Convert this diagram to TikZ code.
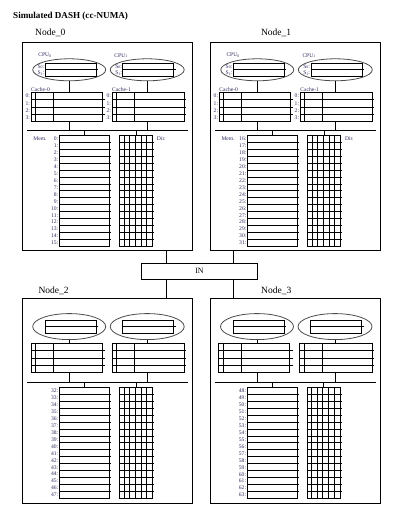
\documentclass[tikz,border=0pt]{standalone}
\usepackage{fontspec}
\setmainfont{Liberation Serif}
\usetikzlibrary{shapes.geometric}
\definecolor{labc}{RGB}{45,45,95}
\newif\ifshowlab
\newcommand\sbs[1]{\raisebox{-0.7pt}{\fontsize{3.9}{4}\selectfont #1}}
\tikzset{
  ln/.style={line width=0.9pt},
  box/.style={draw, line width=1pt, rectangle, inner sep=0pt, outer sep=0pt, anchor=north west},
  cell/.style={draw, line width=0.9pt, rectangle, inner sep=0pt, outer sep=0pt, anchor=north west},
  cpuell/.style={draw=black!70, line width=0.8pt, ellipse, inner sep=0pt, outer sep=0pt},
  lab/.style={font=\fontsize{5.6}{6}\selectfont, text=labc, inner sep=0pt},
  ntitle/.style={font=\fontsize{9.5}{11}\selectfont, inner sep=0pt, anchor=base west},
}
% #1 id, #2 X, #3 Y, #4 label x offset, #5 first memory index
\newcommand\dashnode[5]{%
  \node[ntitle] (n#1lbl) at (#2+#4, #3+\LBY) {Node\_#1};
  \node[box, minimum width=170pt, minimum height=\BH] (n#1) at (#2,#3) {};
  % CPUs
  \node[cpuell, minimum width=73pt, minimum height=\EH] (n#1e0) at (#2+46.5, #3+\ECY) {};
  \node[cpuell, minimum width=74pt, minimum height=\EH] (n#1e1) at (#2+124.5, #3+\ECY) {};
  \node[cell, anchor=center, minimum width=51pt, minimum height=13pt] (n#1r0) at (#2+48, #3+\ECY) {};
  \node[cell, anchor=center, minimum width=51pt, minimum height=13pt] (n#1r1) at (#2+125.7, #3+\ECY) {};
  \draw[ln] (n#1r0.west) -- ++(53,0);
  \draw[ln] (n#1r1.west) -- ++(53,0);
  % caches
  \node[cell, minimum width=71pt, minimum height=29.5pt] (n#1c0) at (#2+8.3, #3+\CTOP) {};
  \node[cell, minimum width=72.3pt, minimum height=29.5pt] (n#1c1) at (#2+89.3, #3+\CTOP) {};
  \foreach \c in {0,1}{
    \foreach \k in {1,2,3}
      \draw[ln] ([yshift=-\k*7.375pt]n#1c\c.north west) -- ++(74,0);
    \foreach \v in {4.5,22.5}
      \draw[ln] ([xshift=\v pt]n#1c\c.north west) -- ([xshift=\v pt]n#1c\c.south west);
  }
  % bus
  \coordinate (n#1bl) at (#2+4.3, #3+\BUSY);
  \coordinate (n#1br) at (#2+165.5, #3+\BUSY);
  \draw[ln] (n#1bl) -- (n#1br);
  \foreach \c in {0,1}{
    \draw[ln] (n#1e\c.south) -- (n#1e\c.south |- n#1c\c.north);
    \draw[ln] (n#1e\c.south |- n#1c\c.south) -- (n#1e\c.south |- n#1bl);
  }
  % memory and directory
  \node[cell, minimum width=50pt, minimum height=111.2pt] (n#1m) at (#2+36.6, #3+\MTOP) {};
  \node[cell, minimum width=33.4pt, minimum height=111.2pt] (n#1d) at (#2+96.6, #3+\MTOP) {};
  \foreach \k in {1,...,15}{
    \draw[ln] ([yshift=-\k*6.95pt]n#1m.north west) -- ++(52,0);
    \draw[ln] ([yshift=-\k*6.95pt]n#1d.north west) -- ++(35,0);
  }
  \foreach \v in {4.7,9.9,15.7,21.7,27.4}
    \draw[ln] ([xshift=\v pt]n#1d.north west) -- ([xshift=\v pt]n#1d.south west);
  \draw[ln] (n#1m.north) -- (n#1m.north |- n#1bl);
  \draw[ln] (n#1d.north) -- (n#1d.north |- n#1bl);
  \foreach \k in {0,...,15}{
    \pgfmathtruncatemacro\mi{#5+\k}
    \node[lab, anchor=east] at ([xshift=-0.8pt, yshift=-(\k+0.5)*6.95pt]n#1m.north west) {\mi:};
  }
  \ifshowlab
    \node[lab, anchor=west] (n#1cpu0) at (#2+15.5, #3+12.5) {CPU\sbs{0}};
    \node[lab, anchor=west] (n#1cpu1) at (#2+91.5, #3+12.5) {CPU\sbs{1}};
    \foreach \c in {0,1}{
      \node[lab, anchor=east] at ([xshift=-0.8pt, yshift=3.2pt]n#1r\c.west) {S\sbs{0}:};
      \node[lab, anchor=east] at ([xshift=-0.8pt, yshift=-3.2pt]n#1r\c.west) {S\sbs{1}:};
      \node[lab, anchor=south west] at ([yshift=0.6pt]n#1c\c.north west) {Cache-\c};
      \foreach \k in {0,...,3}
        \node[lab, anchor=east] at ([xshift=-0.8pt, yshift=-(\k+0.5)*7.375pt]n#1c\c.north west) {\k:};
    }
    \node[lab, anchor=west] (n#1mem) at (#2+10.5, #3+\MTOP+3.5) {Mem.};
    \node[lab, anchor=west] (n#1dir) at ([xshift=4pt, yshift=-3.5pt]n#1d.north east) {Dir.};
  \fi
}
\begin{document}
\begin{tikzpicture}[x=1pt, y=-1pt]
\useasboundingbox (0,0) rectangle (403,519);
\node[font=\fontsize{9.1}{11}\selectfont\bfseries, inner sep=0pt, anchor=base west] (title) at (13,18.5) {Simulated DASH (cc-NUMA)};

% top nodes
\def\LBY{-7}\def\BH{207.7pt}\def\EH{22pt}\def\ECY{26.8}\def\CTOP{49.2}\def\BUSY{87.2}\def\MTOP{92.3}
\showlabtrue
\dashnode{0}{22.7}{43}{12.3}{0}
\dashnode{1}{210.8}{43}{50}{16}

% bottom nodes
\def\LBY{-5.3}\def\BH{205pt}\def\EH{26pt}\def\ECY{28.3}\def\CTOP{45}\def\BUSY{84}\def\MTOP{89}
\showlabfalse
\dashnode{2}{22.7}{298.3}{15.6}{32}
\dashnode{3}{210.5}{298.3}{50.5}{48}

% interconnection network
\node[box, anchor=center, minimum width=115.6pt, minimum height=16pt, font=\fontsize{8}{9}\selectfont] (in) at (199.5,271.3) {IN};
\draw[ln] ([xshift=-33.5pt]in.north) -- ([xshift=-33.5pt]in.north |- n0.south);
\draw[ln] ([xshift=33.5pt]in.north) -- ([xshift=33.5pt]in.north |- n1.south);
\draw[ln] ([xshift=-33.5pt]in.south) -- ([xshift=-33.5pt]in.south |- n2.north);
\draw[ln] ([xshift=33.5pt]in.south) -- ([xshift=33.5pt]in.south |- n3.north);
\end{tikzpicture}
\end{document}
